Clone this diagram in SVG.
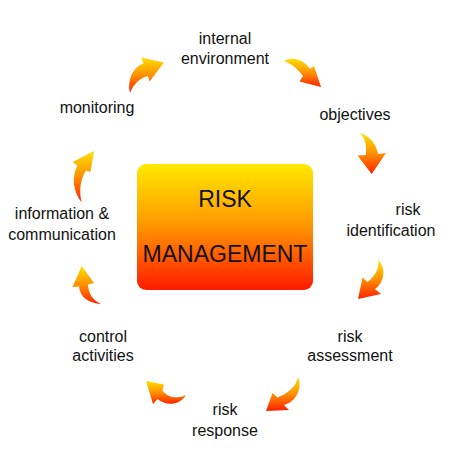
<svg xmlns="http://www.w3.org/2000/svg" width="450" height="450" viewBox="0 0 450 450">
<defs>
<linearGradient id="boxGrad" x1="0" y1="0" x2="0" y2="1">
<stop offset="0" stop-color="#FFEA00"/>
<stop offset="0.5" stop-color="#FF9400"/>
<stop offset="1" stop-color="#FF1A00"/>
</linearGradient>
<linearGradient id="arrGrad" x1="0" y1="0" x2="0" y2="1">
<stop offset="0" stop-color="#FFE000"/>
<stop offset="0.5" stop-color="#FF9000"/>
<stop offset="1" stop-color="#FF2000"/>
</linearGradient>
<style>
.lbl{font-family:"Liberation Sans",Arial,sans-serif;font-size:16px;fill:#111;text-anchor:middle}
.big{font-family:"Liberation Sans",Arial,sans-serif;font-size:23px;fill:#111;text-anchor:middle}
.arr{fill:url(#arrGrad)}
</style>
</defs>
<rect width="450" height="450" fill="#fff"/>
<g id="center">
<rect x="137" y="164" width="176" height="126" rx="9" fill="url(#boxGrad)"/>
<text class="big" x="225" y="207">RISK</text>
<text class="big" x="225" y="262">MANAGEMENT</text>
</g>
<g id="internal-environment"><text class="lbl" x="225" y="44">internal</text><text class="lbl" x="225" y="64">environment</text></g>
<g id="objectives"><text class="lbl" x="355" y="120">objectives</text></g>
<g id="risk-identification"><text class="lbl" x="408" y="215">risk</text><text class="lbl" x="391" y="236">identification</text></g>
<g id="risk-assessment"><text class="lbl" x="350" y="342">risk</text><text class="lbl" x="350" y="361">assessment</text></g>
<g id="risk-response"><text class="lbl" x="225" y="415">risk</text><text class="lbl" x="225" y="436">response</text></g>
<g id="control-activities"><text class="lbl" x="103" y="342">control</text><text class="lbl" x="103" y="361">activities</text></g>
<g id="information-communication"><text class="lbl" x="62" y="219">information &amp;</text><text class="lbl" x="62" y="240">communication</text></g>
<g id="monitoring"><text class="lbl" x="97" y="113">monitoring</text></g>
<g id="connectors">
<path class="arr" d="M130,93 C127,80 133,67 143.5,63.5 L141,57.5 L164,62.5 L149.5,81.5 L148,76 C139,78 133,85 130,93 Z"/>
<path class="arr" d="M284,61 C293,56 304,60 310,69 L314,66 L321,87 L299.5,81.5 L303,76 C298,69 292,64 284,61 Z"/>
<path class="arr" d="M360,133 C366,139 366.5,147 366,155 L357.5,155.5 L371.7,174 L386,153 L378,154 C376,143 369,136 360,133 Z"/>
<path class="arr" d="M378,260 C387,269 384,283 375,289 L381,294 L358,299 L362.5,277.5 L367.5,282 C375,276 380,268 378,260 Z"/>
<path class="arr" d="M298,377 C303,390 295,402 284,405 L289,410 L266,411 L272.5,393 L277.5,397.5 C287,394 296,387 298,377 Z"/>
<path class="arr" d="M186,395 C178,399 168,398 162.5,390.5 L164,384.5 L146,381 L153,404 L157.5,399 C166,406 179,406 186,395 Z"/>
<path class="arr" d="M101,304 C92,300 88.5,293 88,284.5 L94,283 L81.7,266 L72.5,287 L79,286.5 C80,297 88,303 101,304 Z"/>
<path class="arr" d="M81.7,202.5 C72,190 72,176 77.5,165.5 L72.5,162 L94,151 L90.5,172 L86,170.5 C80,180 79,191 81.7,202.5 Z"/>
</g>
</svg>
